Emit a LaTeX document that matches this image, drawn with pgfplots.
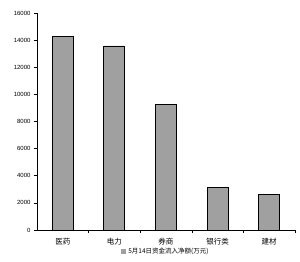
\documentclass[border=0pt]{standalone}
\usepackage{pgfplots}
\pgfplotsset{compat=1.18}
\usepackage{fontspec}
\setmainfont{Liberation Sans}
\newfontfamily\cjk{Noto Sans CJK SC}
\definecolor{bargray}{HTML}{A0A0A0}
\begin{document}
\begin{tikzpicture}
\begin{axis}[
  scale only axis, width=258pt, height=217pt,
  xmin=-0.5, xmax=4.5, ymin=0, ymax=16000,
  axis x line*=bottom, axis y line*=left,
  axis line style={black, line width=0.8pt, -},
  ytick={0,2000,...,16000},
  scaled y ticks=false,
  yticklabel style={font=\fontsize{6}{7}\selectfont},
  /pgf/number format/1000 sep={},
  /pgf/number format/assume math mode=true,
  y tick style={black, line width=0.6pt},
  tick align=outside, major tick length=3pt,
  xtick={0,1,2,3,4},
  xticklabels={医药,电力,券商,银行类,建材},
  xticklabel style={font=\cjk\fontsize{7.5}{8}\selectfont, yshift=-2pt},
  x tick style={draw=none},
  extra x ticks={0.5,1.5,2.5,3.5,4.5},
  extra x tick labels={},
  extra x tick style={x tick style={draw=black, line width=0.4pt}, major tick length=3pt},
  ybar, bar width=21pt,
  legend style={at={(0.5,-0.065)}, anchor=north, draw=none, font=\cjk\fontsize{6.5}{7}\selectfont, fill=none},
  legend image code/.code={\fill[bargray] (0pt,-2pt) rectangle (4pt,2pt);},
]
\addplot[fill=bargray, draw=black, line width=0.8pt] coordinates {(0,14300) (1,13570) (2,9290) (3,3170) (4,2650)};
\addlegendentry{5月14日资金流入净额(万元)}
\end{axis}
\path (current axis.south west) ++(-37pt,-32pt) rectangle ++(300pt,262pt);
\end{tikzpicture}
\end{document}
